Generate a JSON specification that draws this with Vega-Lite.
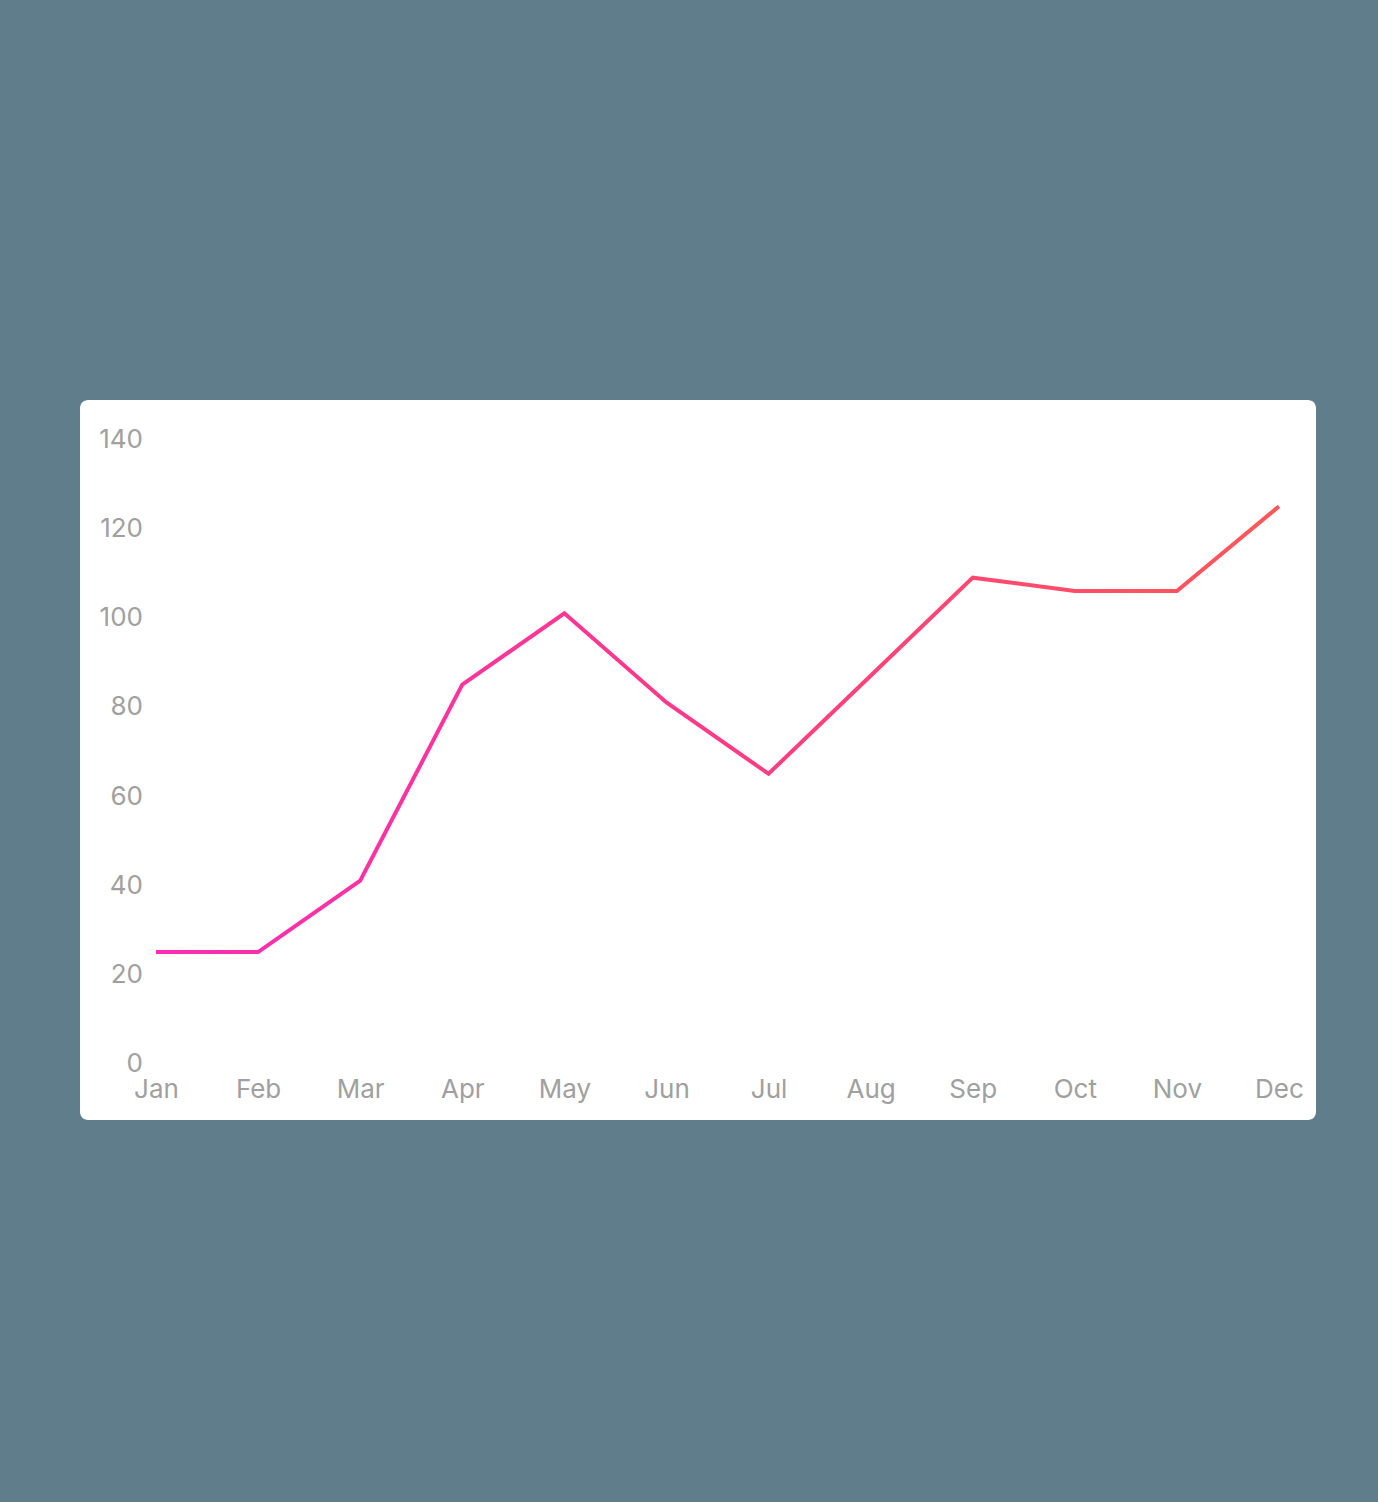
{
  "$schema": "https://vega.github.io/schema/vega-lite/v6.json",
  "width": 1236,
  "height": 720,
  "autosize": "none",
  "padding": {"left": 80, "top": 400, "right": 62, "bottom": 382},
  "background": "#607D8B",
  "config": {
    "view": {"fill": "white", "stroke": null, "cornerRadius": 8},
    "font": "Inter",
    "axis": {
      "domain": false,
      "ticks": false,
      "tickSize": 0,
      "grid": false,
      "title": null,
      "labelColor": "#a0a0a0",
      "labelFontSize": 26,
      "labelFont": "Inter"
    }
  },
  "data": {
    "values": [
      {"month": "Jan", "value": 25},
      {"month": "Feb", "value": 25},
      {"month": "Mar", "value": 41},
      {"month": "Apr", "value": 85},
      {"month": "May", "value": 101},
      {"month": "Jun", "value": 81},
      {"month": "Jul", "value": 65},
      {"month": "Aug", "value": 87},
      {"month": "Sep", "value": 109},
      {"month": "Oct", "value": 106},
      {"month": "Nov", "value": 106},
      {"month": "Dec", "value": 125}
    ]
  },
  "mark": {
    "type": "line",
    "strokeWidth": 4,
    "strokeJoin": "miter",
    "color": {
      "gradient": "linear",
      "x1": 0, "y1": 0, "x2": 1, "y2": 0,
      "stops": [
        {"offset": 0, "color": "#ff2cb4"},
        {"offset": 0.5, "color": "#ff3a86"},
        {"offset": 1, "color": "#ff5858"}
      ]
    }
  },
  "encoding": {
    "x": {
      "field": "month",
      "type": "ordinal",
      "sort": null,
      "scale": {"type": "point", "range": [76, 1199], "padding": 0},
      "axis": {
        "orient": "bottom",
        "offset": -56.5,
        "labelPadding": 13,
        "labelAngle": 0,
        "labelFlush": false,
        "labelOverlap": false,
        "labelBound": false
      }
    },
    "y": {
      "field": "value",
      "type": "quantitative",
      "scale": {"domain": [0, 140], "range": [663.5, 39.5], "nice": false},
      "axis": {
        "orient": "left",
        "offset": -66,
        "labelPadding": 3.5,
        "values": [0, 20, 40, 60, 80, 100, 120, 140],
        "labelFlush": false,
        "labelOverlap": false
      }
    }
  }
}
